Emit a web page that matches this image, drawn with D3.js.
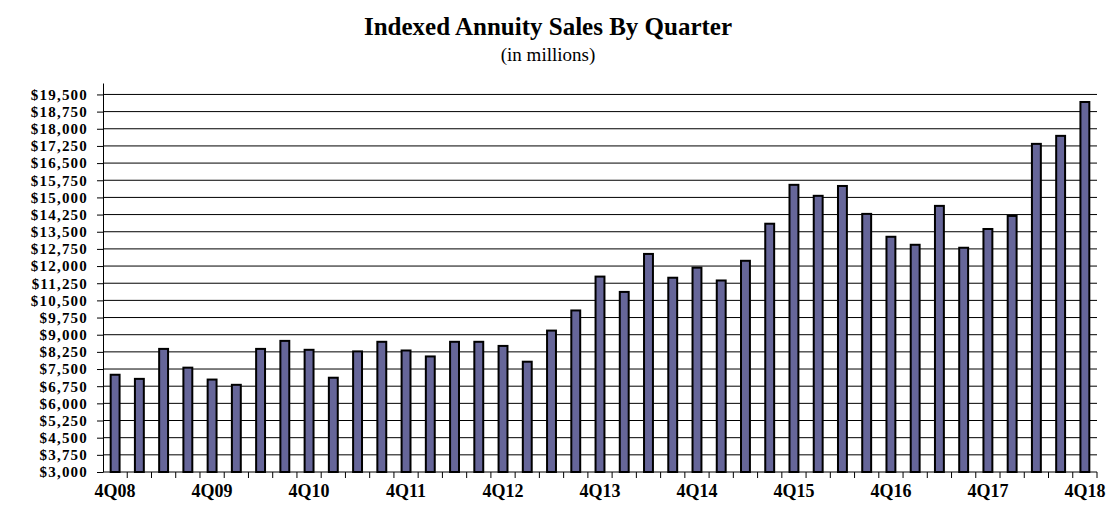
<!DOCTYPE html>
<html>
<head>
<meta charset="utf-8">
<script src="https://cdnjs.cloudflare.com/ajax/libs/d3/7.8.5/d3.min.js"></script>
<style>
  body { margin: 0; background: #fff; }
  text { font-family: "Liberation Serif", "Times New Roman", serif; }
</style>
</head>
<body>
<div id="chart"></div>
<script>
// data (millions of dollars)
var quarters = ["4Q08","1Q09","2Q09","3Q09","4Q09","1Q10","2Q10","3Q10","4Q10",
  "1Q11","2Q11","3Q11","4Q11","1Q12","2Q12","3Q12","4Q12","1Q13","2Q13","3Q13","4Q13",
  "1Q14","2Q14","3Q14","4Q14","1Q15","2Q15","3Q15","4Q15","1Q16","2Q16","3Q16","4Q16",
  "1Q17","2Q17","3Q17","4Q17","1Q18","2Q18","3Q18","4Q18"];
var sales = [7250, 7070, 8380, 7560, 7040, 6810, 8380, 8730, 8340,
  7120, 8270, 8690, 8310, 8050, 8690, 8690, 8510, 7820, 9180, 10060, 11540,
  10870, 12530, 11490, 11930, 11370, 12230, 13850, 15550, 15070, 15500, 14280, 13280,
  12930, 14630, 12800, 13620, 14190, 17340, 17690, 19170];
var yTicks = [3000, 3750, 4500, 5250, 6000, 6750, 7500, 8250, 9000, 9750, 10500, 11250,
  12000, 12750, 13500, 14250, 15000, 15750, 16500, 17250, 18000, 18750, 19500];
var xLabels = ["4Q08","4Q09","4Q10","4Q11","4Q12","4Q13","4Q14","4Q15","4Q16","4Q17","4Q18"];

var width = 1117;
var height = 530;
var margin = {top: 83, right: 20, bottom: 58, left: 103};

var svg = d3.select("#chart")
    .append("svg")
    .attr("width", width)
    .attr("height", height);

var x = d3.scaleBand()
    .domain(quarters)
    .range([margin.left, width - margin.right])
    .paddingInner(0.55)
    .paddingOuter(0.275);

var y = d3.scaleLinear()
    .domain([3000, 20000])
    .range([height - margin.bottom, margin.top]);

var fmt = d3.format(",");

// title
svg.append("text")
    .attr("x", 548).attr("y", 35)
    .attr("text-anchor", "middle")
    .attr("font-size", 25)
    .attr("font-weight", "bold")
    .text("Indexed Annuity Sales By Quarter");
svg.append("text")
    .attr("x", 548).attr("y", 61)
    .attr("text-anchor", "middle")
    .attr("font-size", 19)
    .text("(in millions)");

// gridlines
svg.append("g")
  .selectAll("line")
  .data(yTicks.slice(1))
  .join("line")
    .attr("x1", margin.left)
    .attr("x2", width - margin.right)
    .attr("y1", d => y(d))
    .attr("y2", d => y(d))
    .attr("stroke", "#000")
    .attr("stroke-width", 1);

// bars
svg.append("g")
  .selectAll("rect")
  .data(sales)
  .join("rect")
    .attr("x", (d, i) => x(quarters[i]) + 1)
    .attr("y", d => y(d))
    .attr("width", x.bandwidth() - 2)
    .attr("height", d => y(3000) - y(d))
    .attr("fill", "#666699")
    .attr("stroke", "#000")
    .attr("stroke-width", 2);

// y axis
var yAxis = svg.append("g")
    .attr("transform", `translate(${margin.left},0)`)
    .call(d3.axisLeft(y).tickValues(yTicks).tickSize(6).tickPadding(9)
      .tickFormat(d => "$" + fmt(d)).tickSizeOuter(0));
yAxis.selectAll("text")
    .attr("font-size", 15)
    .attr("font-weight", "bold")
    .attr("letter-spacing", 1.2)
    .attr("fill", "#000")
    .style("font-family", "'Liberation Serif', serif");

// x axis: labels under every 4th bar, ticks on category boundaries
var xAxis = svg.append("g")
    .attr("transform", `translate(0,${height - margin.bottom})`)
    .call(d3.axisBottom(x).tickValues(xLabels).tickSize(0).tickPadding(12).tickSizeOuter(0));
xAxis.select(".domain").remove();
xAxis.selectAll("text")
    .attr("font-size", 18)
    .attr("font-weight", "bold")
    .attr("fill", "#000")
    .style("font-family", "'Liberation Serif', serif");

var step = x.step();
svg.append("g")
  .selectAll("line")
  .data(quarters)
  .join("line")
    .attr("x1", d => x(d) - x.paddingOuter() * step + step)
    .attr("x2", d => x(d) - x.paddingOuter() * step + step)
    .attr("y1", y(3000))
    .attr("y2", y(3000) + 6)
    .attr("stroke", "#000");

svg.append("line")
    .attr("x1", margin.left).attr("x2", width - margin.right)
    .attr("y1", y(3000)).attr("y2", y(3000))
    .attr("stroke", "#000");
</script>
</body>
</html>
